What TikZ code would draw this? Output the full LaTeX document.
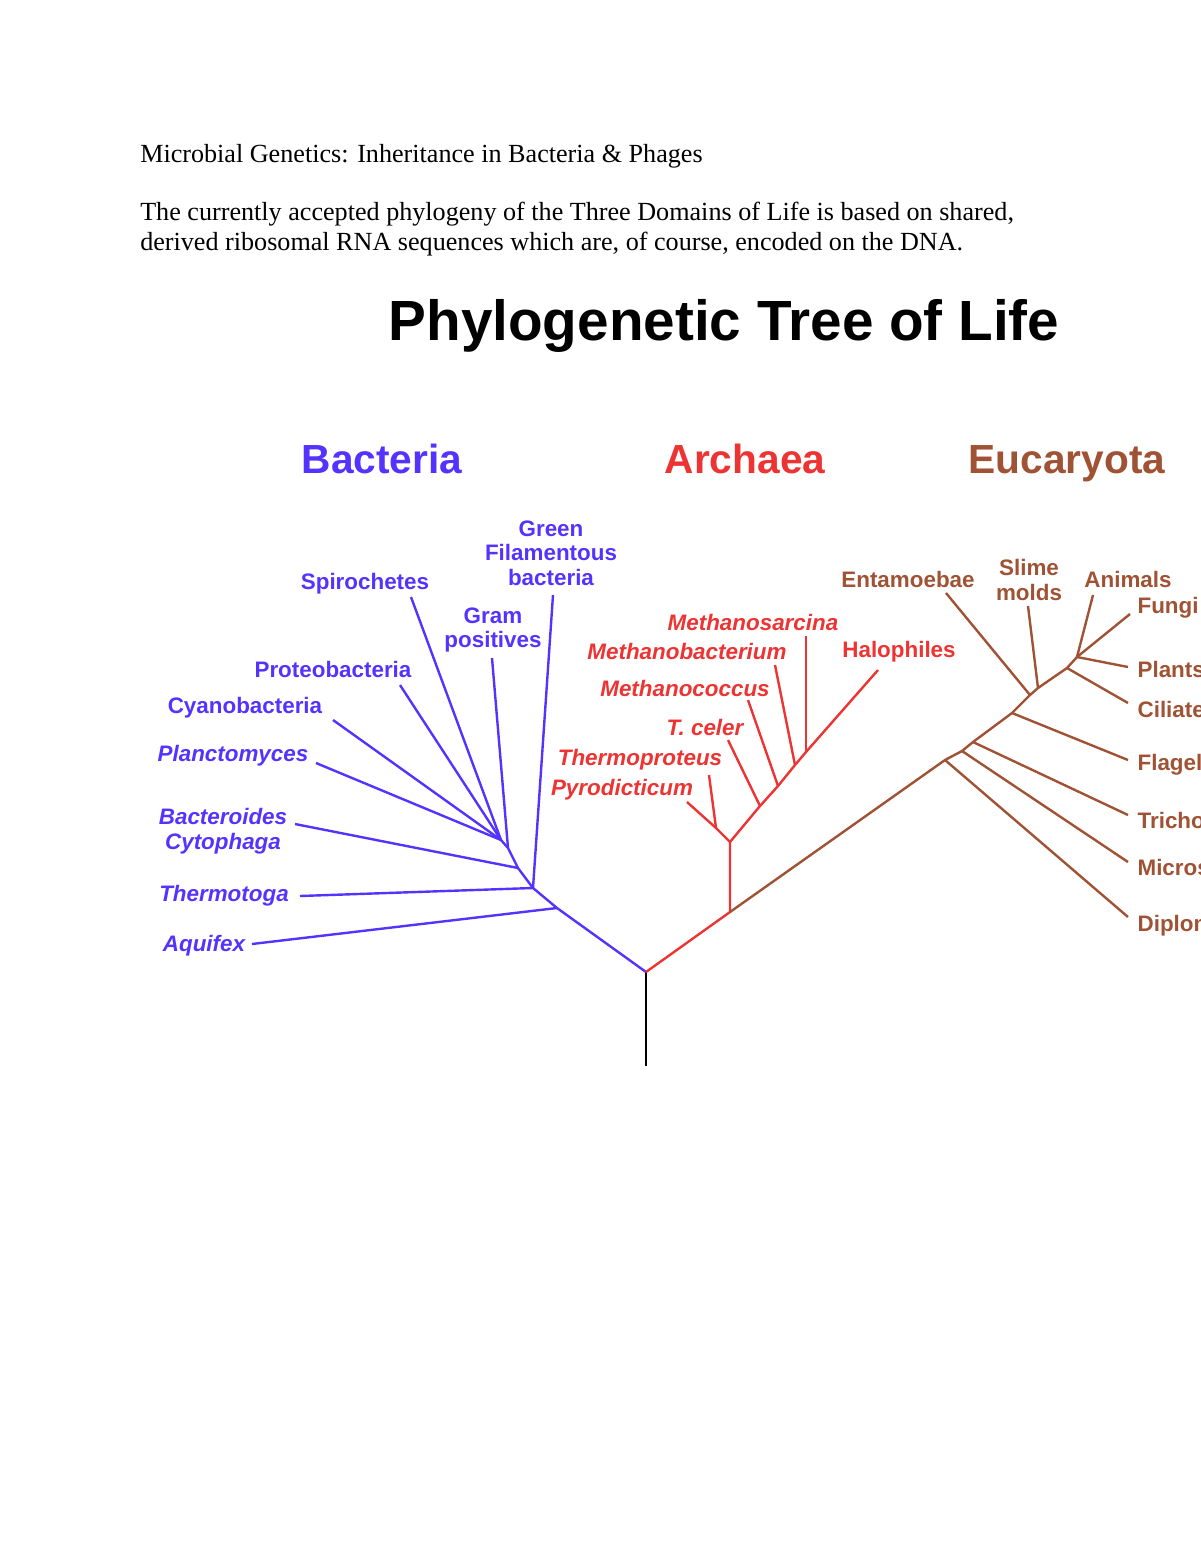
\documentclass[tikz,border=0pt]{standalone}
\usepackage{fontspec}
\setmainfont{Liberation Serif}
\newfontfamily\lsans{Liberation Sans}
\definecolor{bac}{RGB}{85,51,255}
\definecolor{arc}{RGB}{238,51,51}
\definecolor{euk}{RGB}{160,82,52}
\begin{document}
\begin{tikzpicture}[x=0.75pt,y=-0.75pt,
  lab/.style={font=\lsans\bfseries\fontsize{16.8}{18.5}\selectfont,align=center,inner sep=1pt},
  ilab/.style={lab,font=\lsans\bfseries\itshape\fontsize{16.8}{18.5}\selectfont},
  bline/.style={draw=bac,line width=1.8pt},
  aline/.style={draw=arc,line width=1.8pt},
  eline/.style={draw=euk,line width=1.8pt},
  dom/.style={anchor=base,font=\lsans\bfseries\fontsize{30.5}{33}\selectfont},
  hdr/.style={anchor=base west,inner sep=0pt,font=\fontsize{19.6}{22}\selectfont}]
\useasboundingbox (0,0) rectangle (1200,1553);
\clip (0,0) rectangle (1200,1553);
\node[hdr] (h1) at (140,162) {Microbial Genetics: Inheritance in Bacteria \& Phages};
\node[hdr] (h2) at (140,220) {The currently accepted phylogeny of the Three Domains of Life is based on shared,};
\node[hdr] (h3) at (140,250) {derived ribosomal RNA sequences which are, of course, encoded on the DNA.};
\node[font=\lsans\bfseries\fontsize{42.5}{46}\selectfont] (title) at (724,326) {Phylogenetic Tree of Life};
\node[dom,text=bac] (dB) at (382,473) {Bacteria};
\node[dom,text=arc] (dA) at (745,473) {Archaea};
\node[dom,text=euk] (dE) at (1067,473) {Eucaryota};

% coordinates
\coordinate (root) at (646,972);
\coordinate (stem) at (646,1066);
\coordinate (b1) at (557,908);
\coordinate (b2) at (533,888);
\coordinate (b3) at (518,868);
\coordinate (b4) at (508,848);
\coordinate (b5) at (501,840);
\coordinate (a1) at (730,912);
\coordinate (a2) at (730,842);
\coordinate (a3) at (760,806);
\coordinate (a4) at (778,786);
\coordinate (a5) at (795,765);
\coordinate (a6) at (806,752);
\coordinate (ap) at (716,828);
\coordinate (e1) at (945,760);
\coordinate (e2) at (962,751);
\coordinate (e3) at (973,742);
\coordinate (e4) at (1012,713);
\coordinate (e5) at (1030,695);
\coordinate (e6) at (1038,688);
\coordinate (e7) at (1067,668);
\coordinate (e8) at (1077,657);

% Bacteria labels
\node[lab,text=bac] (spi) at (365,584) {Spirochetes};
\node[lab,text=bac] (gfb) at (551,553) {Green\\Filamentous\\bacteria};
\node[lab,text=bac] (gram) at (493,630) {Gram\\positives};
\node[lab,text=bac] (pro) at (333,669) {Proteobacteria};
\node[lab,text=bac] (cya) at (245,708) {Cyanobacteria};
\node[ilab,text=bac] (pla) at (233,756) {Planctomyces};
\node[ilab,text=bac] (bct) at (223,831) {Bacteroides\\Cytophaga};
\node[ilab,text=bac] (thg) at (224,896) {Thermotoga};
\node[ilab,text=bac] (aqu) at (204,946) {Aquifex};
% Archaea labels
\node[ilab,text=arc] (msa) at (753,622) {Methanosarcina};
\node[ilab,text=arc] (mba) at (687,651) {Methanobacterium};
\node[ilab,text=arc] (mco) at (685,688) {Methanococcus};
\node[ilab,text=arc] (tce) at (705,727) {T. celer};
\node[ilab,text=arc] (tpr) at (640,760) {Thermoproteus};
\node[ilab,text=arc] (pyr) at (622,790) {Pyrodicticum};
\node[lab,text=arc] (hal) at (899,652) {Halophiles};
% Eukarya labels
\node[lab,text=euk] (ent) at (908,579) {Entamoebae};
\node[lab,text=euk] (sli) at (1029,580) {Slime\\molds};
\node[lab,text=euk] (ani) at (1128,579) {Animals};
\node[lab,text=euk,anchor=west] (fun) at (1136,608) {Fungi};
\node[lab,text=euk,anchor=west] (pla2) at (1136,669) {Plants};
\node[lab,text=euk,anchor=west] (cil) at (1136,709) {Ciliates};
\node[lab,text=euk,anchor=west] (fla) at (1136,765) {Flagellates};
\node[lab,text=euk,anchor=west] (tri) at (1136,820) {Trichomonads};
\node[lab,text=euk,anchor=west] (mic) at (1136,870) {Microsporidia};
\node[lab,text=euk,anchor=west] (dip) at (1136,926) {Diplomonads};

% stem
\draw[line width=1.8pt] (root) -- (stem);
% bacteria
\draw[bline] (root) -- (b1) -- (b2) -- (b3) -- (b4) -- (b5);
\draw[bline] (b1) -- (252,944);
\draw[bline] (b2) -- (300,896);
\draw[bline] (b2) -- (553,595);
\draw[bline] (b3) -- (295,824);
\draw[bline] (b4) -- (492,658);
\draw[bline] (b5) -- (411,597);
\draw[bline] (b5) -- (400,685);
\draw[bline] (b5) -- (333,720);
\draw[bline] (b5) -- (316,763);
% archaea
\draw[aline] (root) -- (a1) -- (a2) -- (a3) -- (a4) -- (a5) -- (a6) -- (878,670);
\draw[aline] (a2) -- (ap) -- (687,802);
\draw[aline] (ap) -- (709,775);
\draw[aline] (a3) -- (728,740);
\draw[aline] (a4) -- (748,700);
\draw[aline] (a5) -- (775,665);
\draw[aline] (a6) -- (806,636);
% eukarya
\draw[eline] (a1) -- (e1) -- (e2) -- (e3) -- (e4) -- (e5) -- (e6) -- (e7) -- (e8);
\draw[eline] (e1) -- (1128,917);
\draw[eline] (e2) -- (1128,862);
\draw[eline] (e3) -- (1128,815);
\draw[eline] (e4) -- (1128,760);
\draw[eline] (e5) -- (946,593);
\draw[eline] (e6) -- (1028,606);
\draw[eline] (e7) -- (1128,703);
\draw[eline] (e8) -- (1128,667);
\draw[eline] (e8) -- (1130,614);
\draw[eline] (e8) -- (1093,595);
\end{tikzpicture}
\end{document}
